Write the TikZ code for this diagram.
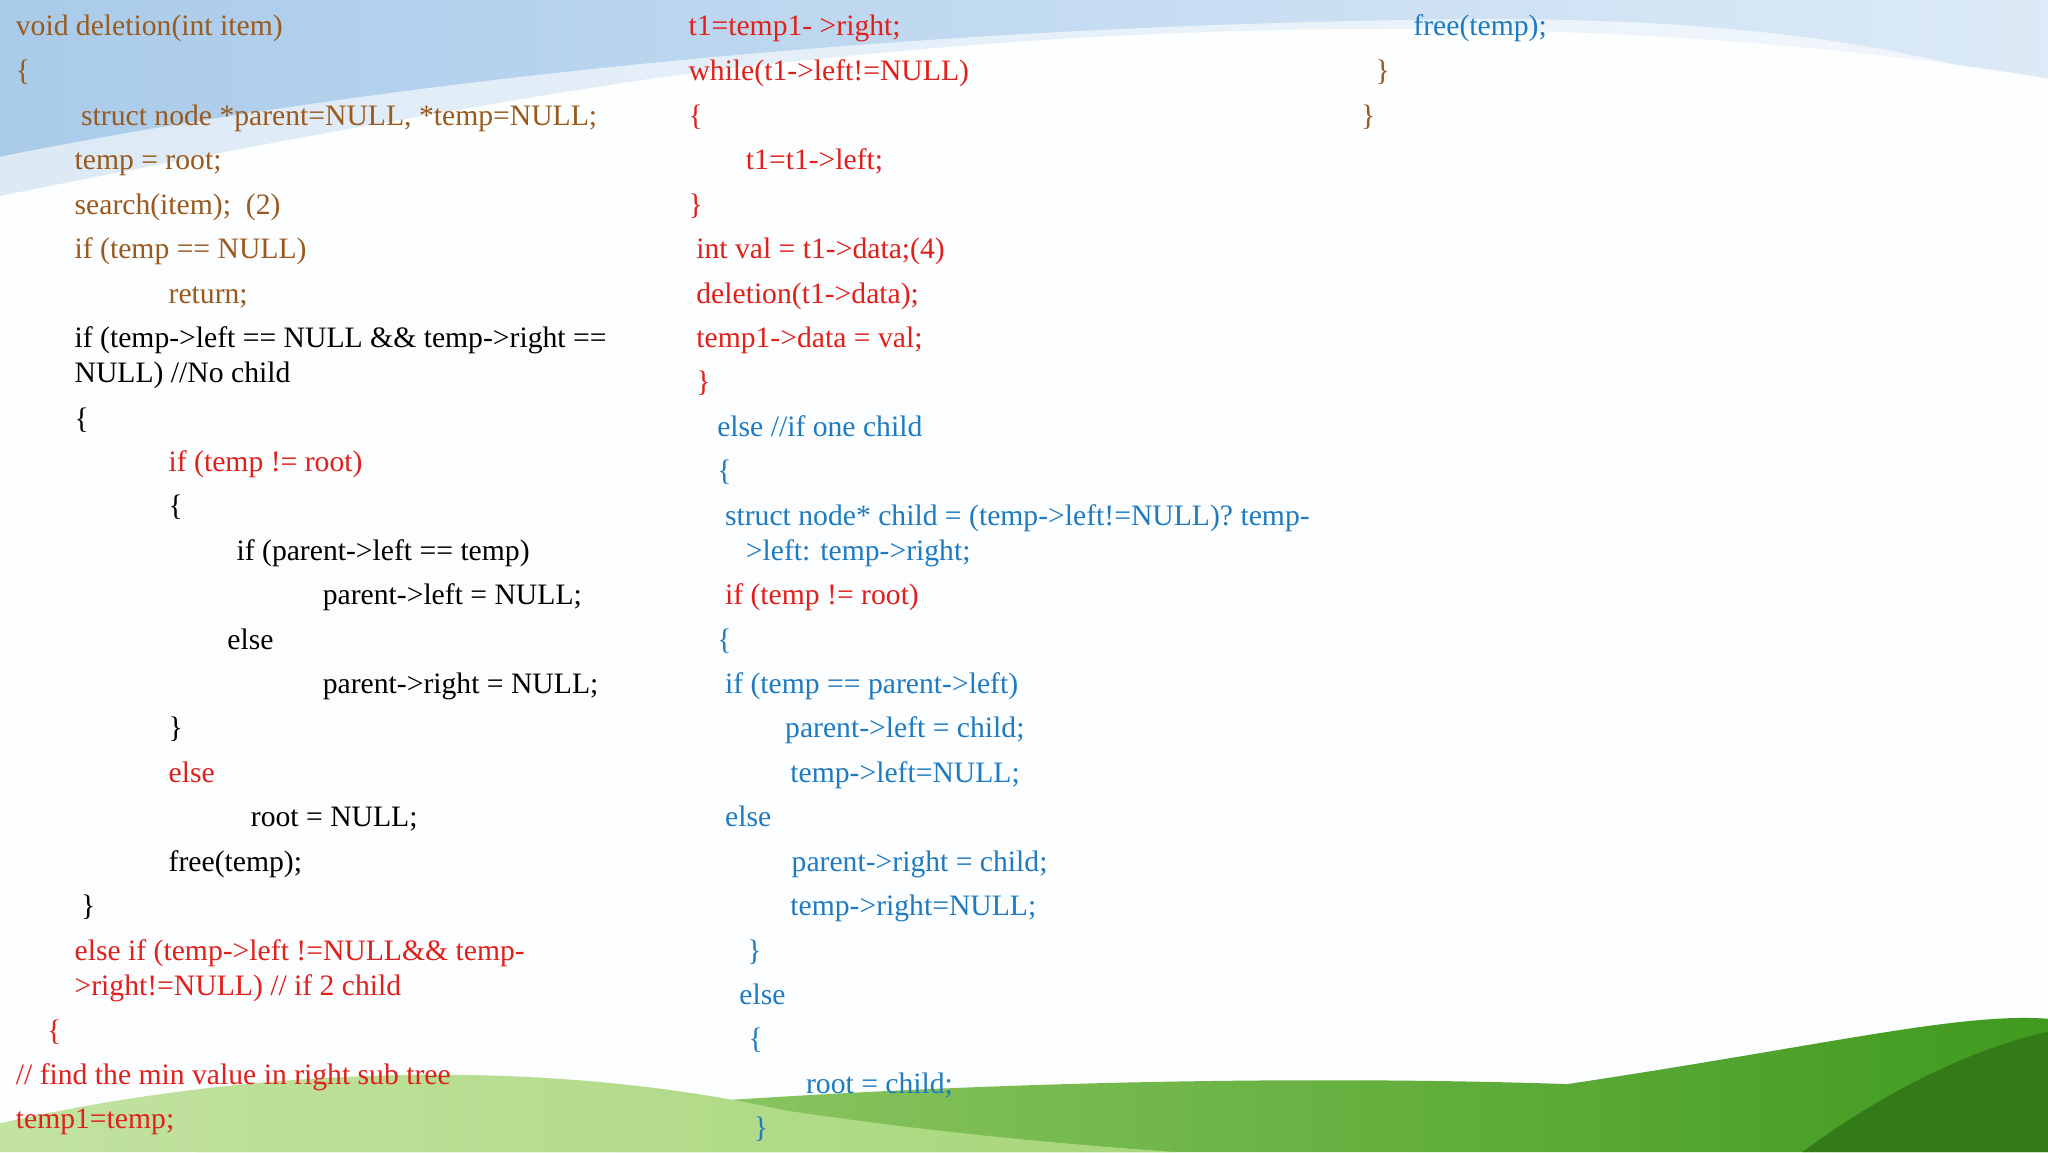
\documentclass[tikz,border=0pt]{standalone}
\usepackage{fontspec}
\setmainfont{Liberation Serif}
\definecolor{cbr}{HTML}{9A5A1E}
\definecolor{cre}{HTML}{E0201B}
\definecolor{cbl}{HTML}{1F7BC0}
\definecolor{sky}{HTML}{A9CBEA}
\definecolor{gd}{HTML}{3F9A1E}
\definecolor{gl}{HTML}{A8D67A}
\tikzset{ln/.style={anchor=base west,inner sep=0pt,font=\fontsize{32.3}{34}\selectfont}}
\begin{document}
\begin{tikzpicture}[x=0.05cm,y=-0.05cm]
\useasboundingbox (0,0) rectangle (1568,882);
\fill[white!96!sky] (0,0) rectangle (1568,882);
\shade[left color=sky, right color=sky!40] (0,0) -- (1568,0) -- (1568,60) .. controls (1200,0) and (800,20) .. (500,60) .. controls (300,90) and (100,130) .. (0,150) -- cycle;
\fill[white,opacity=0.6] (0,120) .. controls (300,60) and (700,20) .. (1100,15) .. controls (1300,12) and (1450,30) .. (1568,70) -- (1568,90) .. controls (1300,40) and (800,60) .. (0,160) -- cycle;
\shade[left color=gl, right color=gd] (150,882) .. controls (500,835) and (900,820) .. (1200,830) .. controls (1400,800) and (1500,775) .. (1568,780) -- (1568,882) -- cycle;
\shade[left color=gl!70, right color=gl] (0,882) -- (0,860) .. controls (200,815) and (420,810) .. (600,850) .. controls (700,865) and (800,875) .. (900,882) -- cycle;
\fill[gd!80!black] (1380,882) .. controls (1450,830) and (1520,800) .. (1568,790) -- (1568,882) -- cycle;
% column 1
\node[ln,cbr] (a1) at (12,27) {void deletion(int item)};
\node[ln,cbr] (a2) at (12,62) {\{};
\node[ln,cbr] (a3) at (62,96) {struct node *parent=NULL, *temp=NULL;};
\node[ln,cbr] (a4) at (57,130) {temp = root;};
\node[ln,cbr] (a5) at (57,164) {search(item);\ \ (2)};
\node[ln,cbr] (a6) at (57,198) {if (temp == NULL)};
\node[ln,cbr] (a7) at (129,232) {return;};
\node[ln] (a8) at (57,266) {if (temp->left == NULL \&\& temp->right ==};
\node[ln] (a9) at (57,293) {NULL) //No child};
\node[ln] (a10) at (57,328) {\{};
\node[ln,cre] (a11) at (129,361) {if (temp != root)};
\node[ln] (a12) at (129,395) {\{};
\node[ln] (a13) at (181,429) {if (parent->left == temp)};
\node[ln] (a14) at (247,463) {parent->left = NULL;};
\node[ln] (a15) at (174,497) {else};
\node[ln] (a16) at (247,531) {parent->right = NULL;};
\node[ln] (a17) at (129,565) {\}};
\node[ln,cre] (a18) at (129,599) {else};
\node[ln] (a19) at (192,633) {root = NULL;};
\node[ln] (a20) at (129,667) {free(temp);};
\node[ln] (a21) at (62,701) {\}};
\node[ln,cre] (a22) at (57,735) {else if (temp->left !=NULL\&\& temp-};
\node[ln,cre] (a23) at (57,762) {>right!=NULL) // if 2 child};
\node[ln,cre] (a24) at (36,797) {\{};
\node[ln,cre] (a25) at (12,830) {// find the min value in right sub tree};
\node[ln,cre] (a26) at (12,864) {temp1=temp;};
% column 2
\node[ln,cre] (b1) at (527,27) {t1=temp1- >right;};
\node[ln,cre] (b2) at (527,62) {while(t1->left!=NULL)};
\node[ln,cre] (b3) at (527,96) {\{};
\node[ln,cre] (b4) at (571,130) {t1=t1->left;};
\node[ln,cre] (b5) at (527,164) {\}};
\node[ln,cre] (b6) at (533,198) {int val = t1->data;(4)};
\node[ln,cre] (b7) at (533,232) {deletion(t1->data);};
\node[ln,cre] (b8) at (533,266) {temp1->data = val;};
\node[ln,cre] (b9) at (533,300) {\}};
\node[ln,cbl] (b10) at (549,334) {else //if one child};
\node[ln,cbl] (b11) at (549,368) {\{};
\node[ln,cbl] (b12) at (555,402) {struct node* child = (temp->left!=NULL)? temp-};
\node[ln,cbl] (b13) at (571,429) {>left: temp->right;};
\node[ln,cre] (b14) at (555,463) {if (temp != root)};
\node[ln,cbl] (b15) at (549,497) {\{};
\node[ln,cbl] (b16) at (555,531) {if (temp == parent->left)};
\node[ln,cbl] (b17) at (601,565) {parent->left = child;};
\node[ln,cbl] (b18) at (605,599) {temp->left=NULL;};
\node[ln,cbl] (b19) at (555,633) {else};
\node[ln,cbl] (b20) at (606,667) {parent->right = child;};
\node[ln,cbl] (b21) at (605,701) {temp->right=NULL;};
\node[ln,cbl] (b22) at (572,735) {\}};
\node[ln,cbl] (b23) at (566,769) {else};
\node[ln,cbl] (b24) at (573,803) {\{};
\node[ln,cbl] (b25) at (617,837) {root = child;};
\node[ln,cbl] (b26) at (577,871) {\}};
% column 3
\node[ln,cbl] (c1) at (1082,27) {free(temp);};
\node[ln,cbr] (c2) at (1053,62) {\}};
\node[ln,cbr] (c3) at (1042,96) {\}};
\end{tikzpicture}
\end{document}
